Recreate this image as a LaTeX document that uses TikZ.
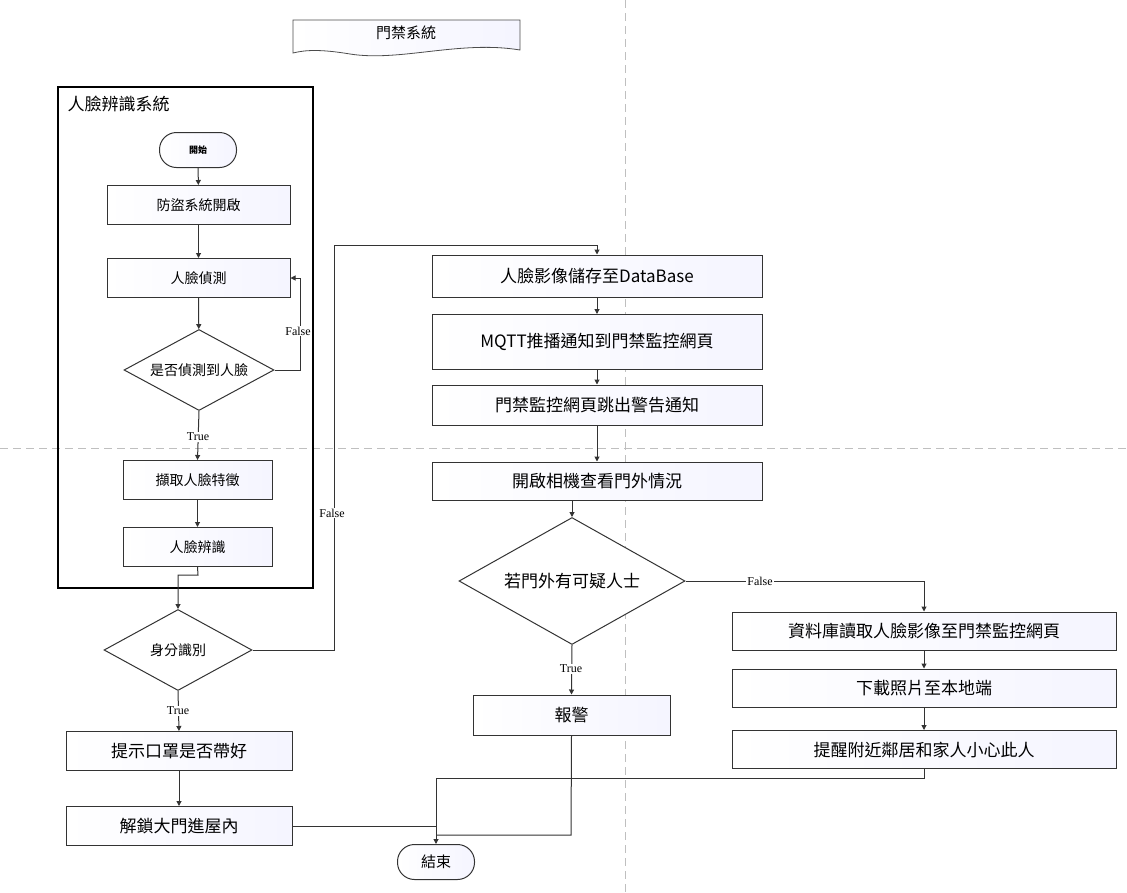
\documentclass[tikz,border=0pt]{standalone}
\usepackage{fontspec}
\setmainfont{Noto Sans CJK TC}
\newfontfamily\serifr{Liberation Serif}
\usetikzlibrary{shapes.geometric,arrows.meta}
\begin{document}
\begin{tikzpicture}[x=1pt,y=-1pt,
  box/.style={draw=black!80,line width=1pt,left color=white,right color=blue!4,minimum height=#1,font=\fontsize{14}{16}\selectfont},
  box/.default=39pt,
  lbox/.style={box,minimum height=40pt,font=\fontsize{17}{19}\selectfont},
  dia/.style={diamond,draw=black!80,line width=1pt,fill=white,aspect=1.85,inner sep=0pt,font=\fontsize{14}{16}\selectfont},
  term/.style={draw=black!80,line width=1pt,rounded corners=17pt,left color=white,right color=blue!4,minimum width=77pt,minimum height=35pt},
  ar/.style={draw=black!80,line width=1pt,-{Triangle[length=5pt,width=5pt]}},
  ln/.style={draw=black!80,line width=1pt},
  lab/.style={font=\serifr\fontsize{12}{14}\selectfont,fill=white,inner sep=1pt}]
\useasboundingbox (0,0) rectangle (1127,892);
\draw[black!25,dashed,line width=1pt,dash pattern=on 8pt off 5pt] (625,0)--(625,892) (0,448)--(1127,448);
% banner
\draw[black!70,line width=0.8pt,left color=white,right color=blue!4] (293,20)--(520,20)--(520,50) .. controls (460,40) and (400,62) .. (350,54) .. controls (320,49) and (305,50) .. (293,53) -- cycle;
\node[font=\fontsize{15}{17}\selectfont] (title) at (406,33) {門禁系統};
\draw[line width=2pt] (58,87) rectangle (313,588);
\node[anchor=west,font=\fontsize{17}{19}\selectfont] (ftitle) at (64,104) {人臉辨識系統};
\node[term,font=\fontsize{9}{11}\selectfont\bfseries] (start) at (198,150) {開始};
\node[box,minimum width=183pt] (b1) at (198.5,205) {防盜系統開啟};
\node[box,minimum width=183pt] (b2) at (198.5,278) {人臉偵測};
\node[dia,minimum width=150pt,minimum height=81pt] (d1) at (199,370) {是否偵測到人臉};
\node[box,minimum width=149pt] (b3) at (197.5,480) {擷取人臉特徵};
\node[box,minimum width=149pt] (b4) at (197.5,547) {人臉辨識};
\node[dia,minimum width=148pt,minimum height=81pt] (d2) at (178,650) {身分識別};
\node[box,minimum width=226pt,font=\fontsize{17}{19}\selectfont] (b5) at (179,751) {提示口罩是否帶好};
\node[box,minimum width=226pt,font=\fontsize{17}{19}\selectfont] (b6) at (179,826) {解鎖大門進屋內};
\node[lbox,minimum width=330pt,minimum height=42pt] (r1) at (597,276) {人臉影像儲存至DataBase};
\node[lbox,minimum width=330pt,minimum height=55pt] (r2) at (597,342) {MQTT推播通知到門禁監控網頁};
\node[lbox,minimum width=330pt] (r3) at (597,405) {門禁監控網頁跳出警告通知};
\node[lbox,minimum width=330pt,minimum height=38pt] (r4) at (597,481) {開啟相機查看門外情況};
\node[dia,minimum width=226pt,minimum height=127pt,font=\fontsize{17}{19}\selectfont] (d3) at (572,581) {若門外有可疑人士};
\node[lbox,minimum width=197pt] (alarm) at (571.5,715) {報警};
\node[lbox,minimum width=384pt,minimum height=38pt] (s1) at (924,631) {資料庫讀取人臉影像至門禁監控網頁};
\node[lbox,minimum width=384pt,minimum height=38pt] (s2) at (924,688) {下載照片至本地端};
\node[lbox,minimum width=384pt,minimum height=38pt] (s3) at (924,749.5) {提醒附近鄰居和家人小心此人};
\node[term,font=\fontsize{15}{17}\selectfont] (end) at (436,862) {結束};
\coordinate (m1) at (436,826);
% connectors
\draw[ar] (start)--(b1);
\draw[ar] (b1)--(b2);
\draw[ar] (b2)--(d1);
\draw[ar] (d1.east)--(300,370)--(300,278)--(b2.east);
\node[lab] (fl1) at (298,331) {False};
\draw[ar] (d1.south)--(b3.north);
\node[lab] (tl1) at (198,437) {True};
\draw[ar] (b3)--(b4);
\draw[ar] (b4.south)--(198,575)--(178,575)--(d2.north);
\draw[ar] (d2.south)--(b5.north);
\node[lab] (tl2) at (178,711) {True};
\draw[ar] (b5)--(b6);
\draw[ar] (d2.east)--(334,650)--(334,245)--(597,245)--(r1.north);
\node[lab] (fl2) at (332,513) {False};
\draw[ar] (r1)--(r2);
\draw[ar] (r2)--(r3);
\draw[ar] (r3)--(r4);
\draw[ar] (d3.north |- r4.south)--(d3.north);
\draw[ar] (d3.east)--(924,581)--(s1.north);
\node[lab] (fl3) at (760,581) {False};
\draw[ar] (d3.south)--(alarm.north);
\node[lab] (tl3) at (571,669) {True};
\draw[ar] (s1)--(s2);
\draw[ar] (s2)--(s3);
\draw[ln] (s3.south)--(924,778)--(436,778)--(m1);
\draw[ln] (alarm.south)--(571,835)--(436,835);
\draw[ln] (b6.east)--(m1);
\draw[ar] (m1)--(end.north);
\end{tikzpicture}
\end{document}
